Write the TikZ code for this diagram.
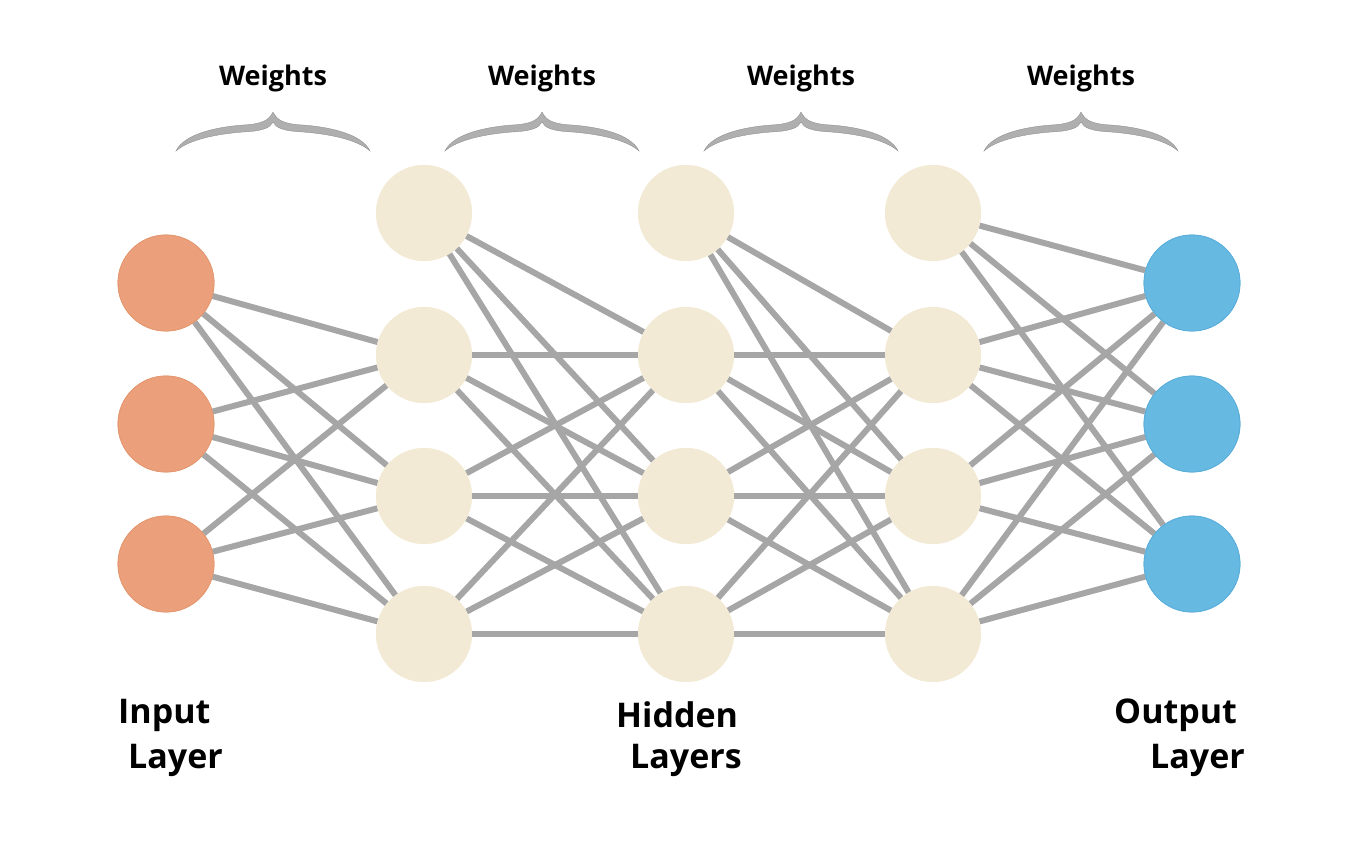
\documentclass[tikz,border=0pt]{standalone}
\usepackage{fontspec}
\setmainfont{Open Sans}
\begin{document}
\begin{tikzpicture}[x=1pt,y=-1pt,
  neu/.style={circle,minimum size=96pt,inner sep=0pt},
  inp/.style={neu,fill=inC,draw=inD,line width=0.8pt},
  hid/.style={neu,fill=hidC},
  outp/.style={neu,fill=outC,draw=outD,line width=0.8pt},
  edge/.style={draw=edgeC,line width=6pt},
  brc/.style={fill=edgeC!90!white,draw=edgeC!80!black,line width=0.3pt},
  lab/.style={font=\bfseries\fontsize{34}{36}\selectfont,anchor=west,inner sep=0pt},
  wlab/.style={font=\bfseries\fontsize{27}{30}\selectfont,inner sep=0pt}]
\definecolor{inC}{HTML}{EBA07B}
\definecolor{inD}{HTML}{E39870}
\definecolor{hidC}{HTML}{F2EAD4}
\definecolor{outC}{HTML}{66B9E1}
\definecolor{outD}{HTML}{5AAEDA}
\definecolor{edgeC}{HTML}{A6A6A6}
\useasboundingbox (0,0) rectangle (1358,860);
\foreach \j/\y in {1/283,2/424,3/564} {
  \node[inp] (i\j) at (166,\y) {};
  \node[outp] (o\j) at (1192,\y) {};
}
\foreach \j/\y in {1/213,2/355,3/496,4/634} {
  \node[hid] (a\j) at (424,\y) {};
  \node[hid] (b\j) at (686,\y) {};
  \node[hid] (c\j) at (933,\y) {};
}
% edges
\foreach \s in {1,2,3} \foreach \t in {2,3,4} \draw[edge] (i\s) -- (a\t);
\foreach \s in {1,2,3,4} \foreach \t in {2,3,4} {
  \draw[edge] (a\s) -- (b\t);
  \draw[edge] (b\s) -- (c\t);
}
\foreach \s in {1,2,3,4} \foreach \t in {1,2,3} \draw[edge] (c\s) -- (o\t);
% redraw nodes on top
\foreach \j/\y in {1/283,2/424,3/564} {
  \node[inp] at (166,\y) {};
  \node[outp] at (1192,\y) {};
}
\foreach \j/\y in {1/213,2/355,3/496,4/634} {
  \node[hid] at (424,\y) {};
  \node[hid] at (686,\y) {};
  \node[hid] at (933,\y) {};
}
% braces and weights
\foreach \L/\R in {176/370,445/639,704/898,984/1178} {
  \pgfmathsetmacro\M{(\L+\R)/2}
  \fill[brc] (\L,151) .. controls (\L+8,134) and (\L+40,127) .. (\M-30,125)
     .. controls (\M-10,124) and (\M-4,120) .. (\M,112)
     .. controls (\M+4,120) and (\M+10,124) .. (\M+30,125)
     .. controls (\R-40,127) and (\R-8,134) .. (\R,151)
     .. controls (\R-12,140) and (\R-40,134) .. (\M+30,132)
     .. controls (\M+10,131) and (\M+3,128) .. (\M,122)
     .. controls (\M-3,128) and (\M-10,131) .. (\M-30,132)
     .. controls (\L+40,134) and (\L+12,140) .. (\L,151) -- cycle;
  \node[wlab] (w\L) at (\M,78) {Weights};
}
\node[lab] (l1) at (118,715) {Input};
\node[lab] (l2) at (128,760) {Layer};
\node[lab] (l3) at (616,715) {Hidden};
\node[lab] (l4) at (630,760) {Layers};
\node[lab] (l5) at (1114,715) {Output};
\node[lab] (l6) at (1150,760) {Layer};
\end{tikzpicture}
\end{document}
